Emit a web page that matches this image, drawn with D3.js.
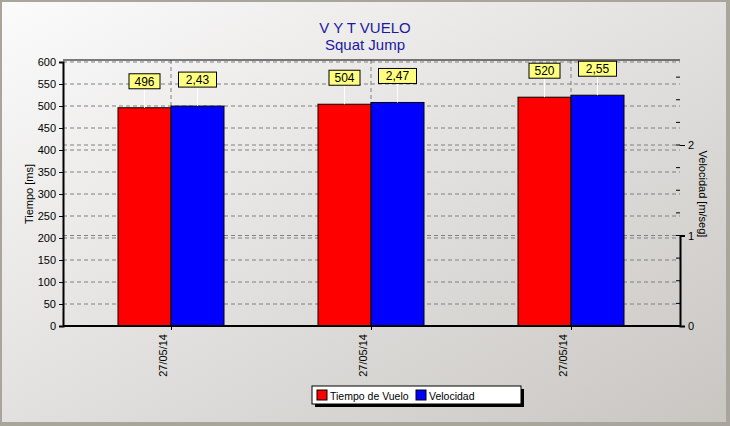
<!DOCTYPE html><html><head><script src="https://cdn.jsdelivr.net/npm/d3@7"></script>
<style>body{margin:0}svg{font-family:"Liberation Sans",Arial,sans-serif}</style></head><body><svg width="730" height="426"></svg><script>
const categories=["27/05/14","27/05/14","27/05/14"];
const tiempo=[496,504,520];
const velocidad=[2.43,2.47,2.55];
const velLabels=["2,43","2,47","2,55"];
const leftTicks=[0,50,100,150,200,250,300,350,400,450,500,550,600];
const rightTicks=[0,1,2];
const svg=d3.select("svg");
const defs=svg.append("defs");
const g=defs.append("linearGradient").attr("id","bg").attr("x1",0).attr("y1",0).attr("x2",1).attr("y2",1);
g.append("stop").attr("offset","0").attr("stop-color","#fbfbfb");
g.append("stop").attr("offset","1").attr("stop-color","#c9c6c2");
svg.append("rect").attr("width",730).attr("height",426).attr("fill","#a9a59c");
svg.append("rect").attr("x",2).attr("y",2).attr("width",724).attr("height",420).attr("fill","url(#bg)");
const L=63,R=680,T=60,B=326;
const y=d3.scaleLinear().domain([0,600]).range([B,62]);
const y2=d3.scaleLinear().domain([0,1]).range([B,235.5]);
const x=d3.scalePoint().domain(d3.range(3)).range([171,571]);
svg.append("g").selectAll("line").data(leftTicks.slice(1)).join("line").attr("x1",L).attr("x2",R).attr("y1",d=>y(d)).attr("y2",d=>y(d)).attr("stroke","#808080").attr("stroke-dasharray","4,3");
svg.append("g").selectAll("line").data(rightTicks.slice(1)).join("line").attr("x1",L).attr("x2",R).attr("y1",d=>y2(d)).attr("y2",d=>y2(d)).attr("stroke","#808080").attr("stroke-dasharray","4,3");
svg.append("g").selectAll("line").data(d3.range(3)).join("line").attr("x1",d=>x(d)).attr("x2",d=>x(d)).attr("y1",T).attr("y2",B).attr("stroke","#808080").attr("stroke-dasharray","4,3");
svg.append("line").attr("x1",L).attr("x2",R).attr("y1",T).attr("y2",T).attr("stroke","#000");
const bw=53;
svg.append("g").selectAll("rect").data(tiempo).join("rect").attr("x",(d,i)=>x(i)-bw).attr("y",d=>y(d)).attr("width",bw).attr("height",d=>B-y(d)).attr("fill","#ff0000").attr("stroke","#000");
svg.append("g").selectAll("rect").data(velocidad).join("rect").attr("x",(d,i)=>x(i)).attr("y",d=>y2(d)).attr("width",bw).attr("height",d=>B-y2(d)).attr("fill","#0000ff").attr("stroke","#000");
function label(val,txt,cx,top){
  const bottom=top-19,w=txt.length*7+10;
  svg.append("line").attr("x1",cx).attr("x2",cx).attr("y1",bottom).attr("y2",top).attr("stroke","#fff");
  svg.append("rect").attr("x",cx-w/2).attr("y",bottom-15).attr("width",w).attr("height",15).attr("fill","#ffff80").attr("stroke","#000");
  svg.append("text").attr("x",cx).attr("y",bottom-3).attr("text-anchor","middle").attr("font-size",12).text(txt);
}
tiempo.forEach((d,i)=>label(d,String(d),x(i)-bw/2,y(d)));
velocidad.forEach((d,i)=>label(d,velLabels[i],x(i)+bw/2,y2(d)));
const la=svg.append("g").attr("transform",`translate(${L},0)`).call(d3.axisLeft(y).tickValues(leftTicks).tickSize(4));
la.selectAll("text").attr("font-size",11).attr("fill","#000");la.select(".domain").attr("stroke-width",2);
const ra=svg.append("g").attr("transform",`translate(${R},0)`).call(d3.axisRight(y2).tickValues(rightTicks).tickFormat(d3.format("d")).tickSize(5));
ra.selectAll("text").attr("font-size",11).attr("fill","#000");ra.select(".domain").attr("stroke-width",2);
svg.append("g").attr("transform",`translate(${R},0)`).selectAll("line").data(d3.range(0,2.9,0.25)).join("line").attr("x1",0).attr("x2",-4).attr("y1",d=>y2(d)).attr("y2",d=>y2(d)).attr("stroke","#000");
const ba=svg.append("g").attr("transform",`translate(0,${B})`).call(d3.axisBottom(x).tickFormat(i=>categories[i]).tickSize(4));
ba.select(".domain").attr("stroke-width",2).attr("d",`M${L},0H${R}`);
ba.selectAll("text").attr("font-size",11).attr("fill","#000").attr("transform","rotate(-90)").attr("text-anchor","end").attr("x",-8).attr("y",-5).attr("dy","0");
svg.append("text").attr("transform","translate(33,194) rotate(-90)").attr("text-anchor","middle").attr("font-size",11).text("Tiempo [ms]");
svg.append("text").attr("transform","translate(699,194) rotate(90)").attr("text-anchor","middle").attr("font-size",11).text("Velocidad [m/seg]");
svg.append("text").attr("x",365).attr("y",33).attr("text-anchor","middle").attr("font-size",15).attr("fill","#1a1aa0").text("V Y T VUELO");
svg.append("text").attr("x",365).attr("y",50).attr("text-anchor","middle").attr("font-size",15).attr("fill","#1a1aa0").text("Squat Jump");
svg.append("rect").attr("x",315).attr("y",389).attr("width",209).attr("height",18).attr("fill","#000");
svg.append("rect").attr("x",312).attr("y",386).attr("width",209).attr("height",18).attr("fill","#fff").attr("stroke","#000");
[["Tiempo de Vuelo","#ff0000",317],["Velocidad","#0000ff",416]].forEach(([t,c,lx])=>{
 svg.append("rect").attr("x",lx).attr("y",390).attr("width",10).attr("height",10).attr("fill",c).attr("stroke","#000");
 svg.append("text").attr("x",lx+13).attr("y",400).attr("font-size",10.5).text(t);});
</script></body></html>
